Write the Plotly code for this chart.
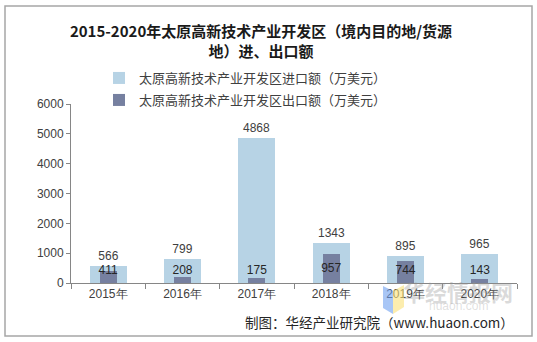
import plotly.graph_objects as go

years = ["2015年", "2016年", "2017年", "2018年", "2019年", "2020年"]
imports = [566, 799, 4868, 1343, 895, 965]
exports = [411, 208, 175, 957, 744, 143]
import_name = "太原高新技术产业开发区进口额（万美元）"
export_name = "太原高新技术产业开发区出口额（万美元）"
title_text = "2015-2020年太原高新技术产业开发区（境内目的地/货源<br>地）进、出口额"
source_text = "制图：华经产业研究院（www.huaon.com）"

c_imp = "#B7D3E5"
c_exp = "#7680A0"
txt = "#404040"
num_font = "Liberation Sans, Arial, sans-serif"
cjk_font = "Noto Sans CJK SC, sans-serif"

def px_x(p):
    return (p - 71) / 446

def px_y(p):
    return (283 - p) / 179

fig = go.Figure()
fig.add_trace(go.Bar(
    x=years, y=imports, name=import_name, width=0.5, legend="legend",
    marker=dict(color=c_imp, line=dict(width=0)),
    text=[str(v) for v in imports], textposition="outside",
    textfont=dict(family=num_font, size=12, color=txt),
    cliponaxis=False,
))
fig.add_trace(go.Bar(
    x=years, y=exports, name=export_name, width=0.23, legend="legend2",
    marker=dict(color=c_exp, line=dict(width=0)),
))
fig.add_trace(go.Scatter(
    x=years, y=[max(v / 2, 400) for v in exports], mode="text",
    text=[str(v) for v in exports], textposition="middle center",
    textfont=dict(family=num_font, size=12, color="#262626"),
    showlegend=False, hoverinfo="skip", cliponaxis=False,
))

leg_common = dict(orientation="v", xanchor="left", yanchor="middle", xref="paper", yref="paper",
                  font=dict(family=cjk_font, size=13, color=txt),
                  bgcolor="rgba(0,0,0,0)", itemwidth=30)

fig.update_layout(
    width=537, height=342,
    margin=dict(l=71, r=20, t=104, b=59),
    paper_bgcolor="white", plot_bgcolor="white",
    barmode="overlay", bargap=0,
    title=dict(text=title_text, x=261 / 537, xref="container", xanchor="center",
               y=(342 - 37) / 342, yref="container", yanchor="middle",
               font=dict(family=cjk_font, size=15, color="#1a1a1a", weight="bold")),
    legend=dict(x=px_x(99), y=px_y(78), **leg_common),
    legend2=dict(x=px_x(99), y=px_y(100), **leg_common),
    showlegend=True,
    xaxis=dict(type="category", showline=True, linecolor="#868686", linewidth=1,
               ticks="outside", tickson="boundaries", ticklen=5, tickcolor="#868686",
               tickfont=dict(family=num_font, size=12, color=txt), showgrid=False,
               fixedrange=True),
    yaxis=dict(range=[0, 6000], dtick=1000, showline=True, linecolor="#868686",
               linewidth=1, ticks="outside", ticklen=4, tickcolor="#868686",
               tickfont=dict(family=num_font, size=12, color=txt), showgrid=False,
               zeroline=False, fixedrange=True),
)

# outer frame
fig.add_shape(type="rect", xref="paper", yref="paper",
              x0=px_x(5), x1=px_x(532), y0=px_y(336), y1=px_y(6),
              line=dict(color="#A6A6A6", width=1.5), fillcolor="rgba(0,0,0,0)", layer="below")

# source note
fig.add_annotation(text=source_text, xref="paper", yref="paper",
                   x=px_x(516), y=px_y(322), xanchor="right", yanchor="middle",
                   showarrow=False, font=dict(family=cjk_font, size=13.5, color="#262626"))

# watermark
fig.add_annotation(text="华经情报网", xref="paper", yref="paper",
                   x=px_x(458), y=px_y(291), xanchor="center", yanchor="middle",
                   showarrow=False, font=dict(family=cjk_font, size=22, color="rgba(150,150,150,0.35)", weight="bold"))
fig.add_annotation(text="huaon.com", xref="paper", yref="paper",
                   x=px_x(458), y=px_y(306), xanchor="center", yanchor="middle",
                   showarrow=False, font=dict(family=num_font, size=12, color="rgba(150,150,150,0.3)"))
fig.add_shape(type="path", xref="paper", yref="paper",
              path=f"M {px_x(383)},{px_y(286)} L {px_x(393)},{px_y(291)} L {px_x(393)},{px_y(314)} L {px_x(383)},{px_y(308)} Z",
              fillcolor="rgba(110,160,240,0.6)", line=dict(width=0))
fig.add_shape(type="path", xref="paper", yref="paper",
              path=f"M {px_x(393)},{px_y(291)} L {px_x(404)},{px_y(285)} L {px_x(404)},{px_y(307)} L {px_x(393)},{px_y(314)} Z",
              fillcolor="rgba(250,225,120,0.6)", line=dict(width=0))

fig.write_html("out.html")
